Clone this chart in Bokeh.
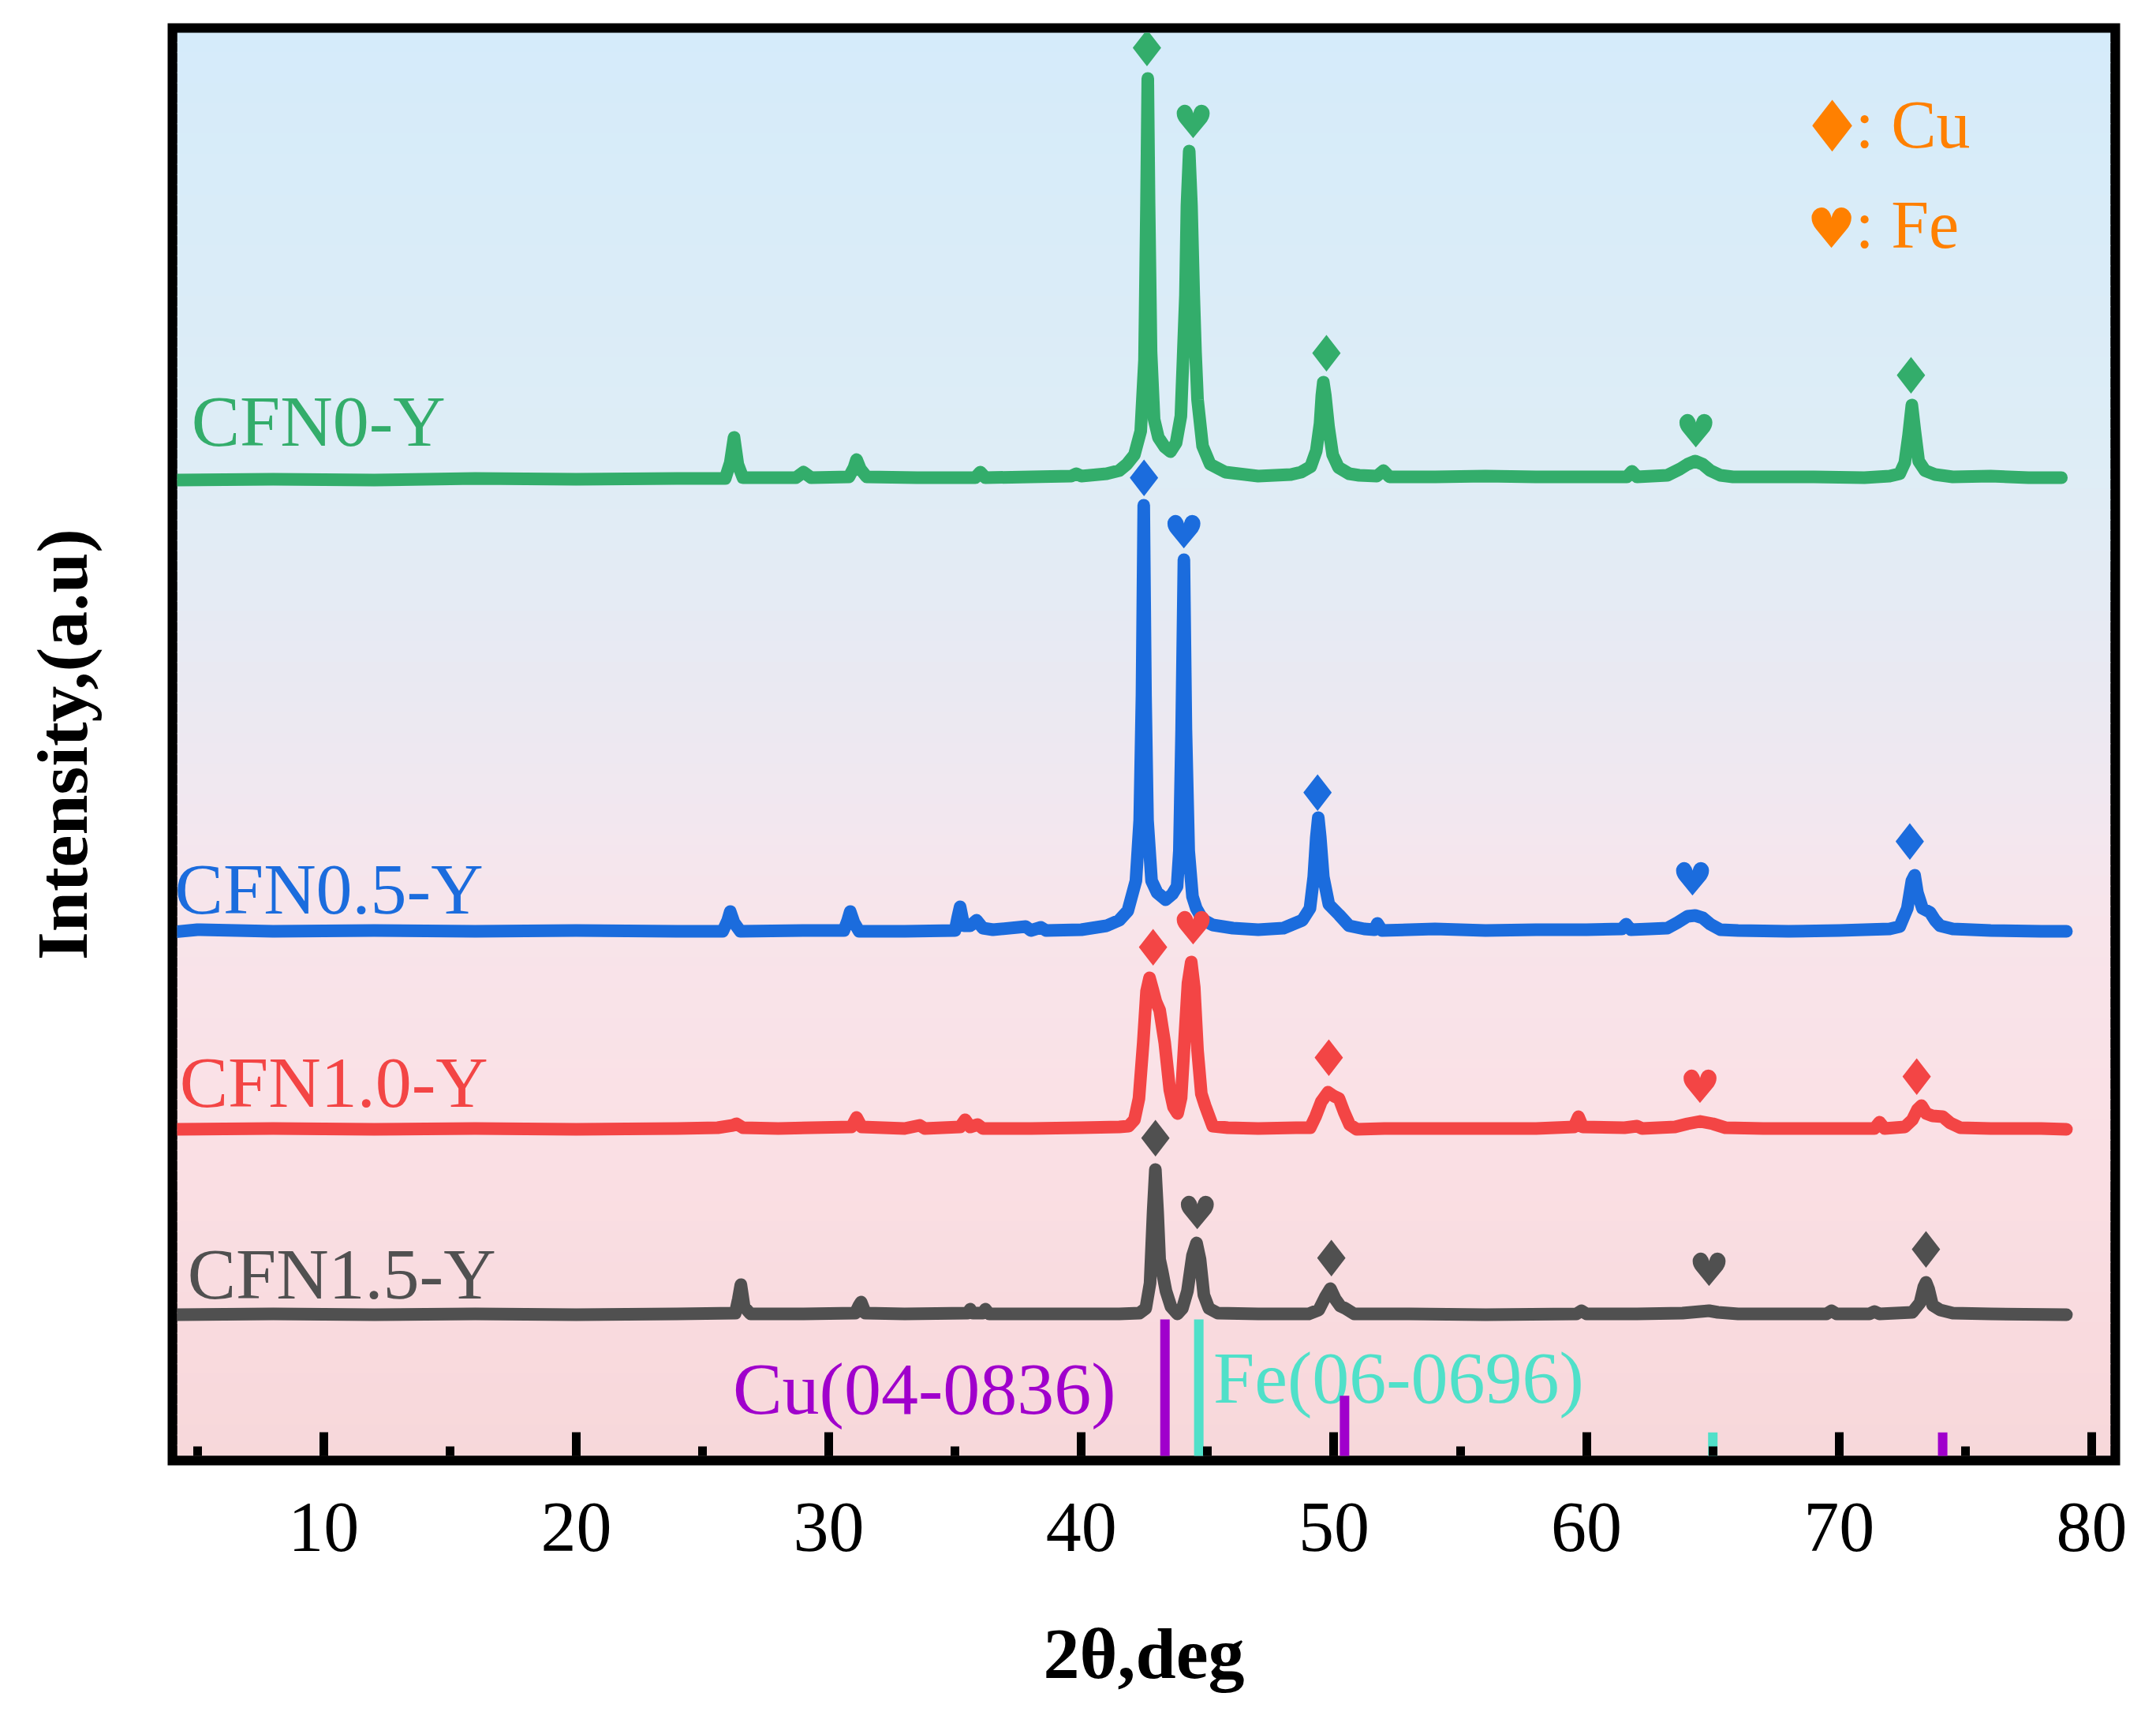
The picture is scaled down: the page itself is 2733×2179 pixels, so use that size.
import numpy as np
from bokeh.plotting import figure
from bokeh.models import Range1d, SingleIntervalTicker, FixedTicker
from bokeh.core.properties import value
from bokeh.embed import file_html
from bokeh.resources import INLINE

# ---------------- data (2theta in deg, relative intensity in a.u.) ----------------
green_x = [4.0, 8.0, 12.0, 16.0, 20.0, 24.0, 25.9, 26.1, 26.25, 26.4, 26.6, 28.7, 29.0, 29.3,
           30.8, 31.0, 31.1, 31.25, 31.5, 33.5, 35.8, 36.0, 36.2, 38.0, 39.6, 39.8, 40.0, 41.0,
           41.5, 41.8, 42.1, 42.35, 42.5, 42.58, 42.63, 42.68, 42.76, 42.88, 43.05, 43.3, 43.53,
           43.75, 43.94, 44.03, 44.12, 44.18, 44.27, 44.36, 44.45, 44.52, 44.6, 44.8, 45.1, 45.7,
           47.0, 48.3, 48.7, 49.08, 49.3, 49.45, 49.52, 49.58, 49.66, 49.79, 49.95, 50.18, 50.6,
           51.0, 51.7, 51.96, 52.2, 54.0, 56.0, 58.0, 60.0, 61.6, 61.8, 62.0, 63.2, 63.7, 64.0,
           64.3, 64.6, 64.9, 65.3, 65.8, 67.0, 69.0, 71.0, 72.0, 72.4, 72.6, 72.75, 72.88, 73.0,
           73.15, 73.4, 73.8, 74.5, 76.0, 77.5, 78.8]
green_i = [-2, -1, -2, 0, -1, 0, 0, 20, 52, 18, 1, 1, 8, 1,
           2, 14, 24, 12, 2, 1, 1, 8, 1, 2, 3, 6, 3, 6,
           10, 18, 30, 60, 150, 350, 507, 350, 160, 75, 52, 40, 34,
           45, 79, 155, 232, 346, 415, 346, 232, 160, 100, 41, 18, 8,
           3, 5, 8, 15, 35, 70, 105, 122, 105, 65, 30, 14, 6,
           4, 3, 10, 2, 2, 3, 2, 2, 2, 9, 2, 4, 12, 18,
           22, 18, 10, 4, 2, 2, 2, 1, 3, 6, 20, 55, 93, 60,
           22, 10, 5, 2, 3, 1, 1]

blue_x = [4.0, 5.0, 8.0, 12.0, 16.0, 20.0, 24.0, 25.8, 26.0, 26.1, 26.25, 26.5, 29.0, 30.6,
          30.75, 30.85, 31.0, 31.2, 33.0, 35.0, 35.1, 35.2, 35.35, 35.6, 35.85, 36.1, 36.5, 37.8,
          38.0, 38.4, 38.6, 40.0, 41.0, 41.5, 41.84, 42.16, 42.31, 42.4, 42.47, 42.54, 42.62,
          42.78, 43.0, 43.34, 43.6, 43.79, 43.88, 43.97, 44.06, 44.14, 44.25, 44.4, 44.55, 44.8,
          45.2, 46.0, 47.0, 48.0, 48.75, 49.05, 49.2, 49.3, 49.38, 49.46, 49.58, 49.8, 50.2, 50.6,
          51.2, 51.6, 51.72, 51.9, 54.0, 56.0, 58.0, 60.0, 61.4, 61.57, 61.75, 62.5, 63.2, 63.6,
          64.0, 64.3, 64.6, 64.9, 65.3, 66.0, 68.0, 70.0, 72.0, 72.4, 72.7, 72.88, 72.99, 73.1,
          73.3, 73.6, 73.8, 74.0, 74.5, 76.0, 78.0, 79.0]
blue_i = [0, 3, 1, 2, 1, 2, 1, 1, 15, 26, 12, 1, 2, 2,
          15, 26, 12, 1, 1, 2, 18, 32, 8, 8, 15, 5, 3, 7,
          2, 6, 2, 3, 8, 15, 27, 65, 142, 300, 541, 300, 142,
          65, 50, 41, 48, 58, 103, 257, 472, 257, 103, 45, 30, 16,
          9, 5, 3, 5, 15, 30, 70, 120, 145, 120, 70, 35, 22, 8,
          4, 3, 11, 2, 4, 2, 3, 3, 4, 10, 3, 4, 5, 12,
          20, 21, 18, 10, 3, 2, 1, 2, 4, 7, 30, 65, 72, 50,
          30, 25, 15, 8, 4, 2, 1, 1]

red_x = [4.0, 8.0, 12.0, 16.0, 20.0, 24.0, 25.6, 26.2, 26.35, 26.6, 28.0, 30.9, 31.1, 31.3,
         33.0, 33.6, 33.8, 35.2, 35.4, 35.6, 35.9, 36.1, 38.0, 40.0, 41.5, 41.87, 42.1, 42.28,
         42.45, 42.58, 42.7, 42.82, 42.95, 43.1, 43.3, 43.5, 43.65, 43.81, 43.95, 44.08, 44.22,
         44.35, 44.47, 44.6, 44.75, 44.9, 45.2, 45.8, 47.0, 48.5, 49.06, 49.27, 49.5, 49.77, 50.0,
         50.2, 50.4, 50.62, 50.9, 52.0, 54.0, 56.0, 58.0, 59.5, 59.68, 59.85, 61.5, 62.0, 62.2,
         63.5, 64.0, 64.5, 65.0, 65.5, 67.0, 69.0, 71.4, 71.6, 71.8, 72.6, 72.9, 73.1, 73.26,
         73.45, 73.7, 74.1, 74.4, 74.8, 76.0, 78.0, 79.0]
red_i = [0, 1, 0, 1, 0, 1, 2, 5, 7, 2, 1, 3, 15, 3,
         1, 5, 1, 3, 12, 3, 6, 1, 1, 2, 3, 4, 12, 39,
         110, 175, 192, 178, 162, 151, 110, 50, 28, 20, 40, 110, 185,
         212, 180, 100, 45, 30, 4, 2, 1, 2, 2, 16, 35, 47, 42,
         39, 22, 6, 0, 1, 1, 1, 1, 3, 16, 3, 2, 4, 1,
         3, 7, 10, 7, 2, 1, 1, 1, 9, 1, 3, 12, 25, 30,
         20, 17, 16, 8, 2, 1, 1, 0]

gray_x = [4.0, 8.0, 12.0, 16.0, 20.0, 24.0, 26.3, 26.42, 26.52, 26.65, 26.9, 29.0, 31.05, 31.2,
          31.28, 31.45, 33.0, 35.5, 35.6, 35.7, 36.1, 36.2, 36.35, 38.0, 40.0, 41.5, 42.3, 42.55,
          42.72, 42.84, 42.93, 43.02, 43.1, 43.2, 43.35, 43.55, 43.8, 44.0, 44.2, 44.4, 44.56,
          44.7, 44.85, 45.05, 45.4, 47.0, 49.0, 49.4, 49.65, 49.86, 50.05, 50.25, 50.45, 50.8,
          53.0, 56.0, 59.6, 59.8, 60.0, 62.0, 63.8, 64.5, 64.85, 65.2, 66.0, 69.5, 69.7, 69.9,
          71.2, 71.4, 71.6, 72.9, 73.2, 73.35, 73.44, 73.55, 73.7, 74.0, 74.5, 76.0, 79.0]
gray_i = [0, 1, 0, 1, 0, 1, 2, 20, 38, 10, 1, 1, 2, 12,
          16, 2, 1, 2, 7, 2, 2, 7, 1, 1, 1, 1, 2, 8,
          40, 130, 184, 130, 70, 55, 30, 10, 1, 8, 30, 75, 91,
          70, 25, 8, 2, 1, 1, 6, 22, 33, 20, 11, 8, 1,
          1, 0, 1, 5, 1, 1, 2, 4, 5, 3, 1, 1, 5, 1,
          1, 4, 1, 3, 15, 35, 41, 32, 12, 6, 2, 1, 0]

names = ["CFN0-Y", "CFN0.5-Y", "CFN1.0-Y", "CFN1.5-Y"]
offsets = [1245, 670, 420, 185]          # vertical stacking offsets (a.u.)
series_x = [green_x, blue_x, red_x, gray_x]
series_i = [green_i, blue_i, red_i, gray_i]
colors = ["#33AD6B", "#1B6CDD", "#F34545", "#505050"]

# peak markers: (2theta, relative intensity, phase)
markers = [
    [(42.60, 545, "Cu"), (44.43, 452, "Fe"), (49.70, 158, "Cu"), (64.33, 60, "Fe"), (72.85, 130, "Cu")],
    [(42.48, 575, "Cu"), (44.06, 507, "Fe"), (49.35, 176, "Cu"), (64.20, 67, "Fe"), (72.80, 114, "Cu")],
    [(42.84, 230, "Cu"), (44.43, 255, "Fe"), (49.80, 90, "Cu"), (64.49, 54, "Fe"), (73.07, 66, "Cu")],
    [(42.93, 223, "Cu"), (44.59, 129, "Fe"), (49.90, 71, "Cu"), (64.85, 57, "Fe"), (73.44, 82, "Cu")],
]
label_pos = [(4.77, 1318), (4.11, 725), (4.30, 480), (4.61, 237)]

# standard reference patterns
cu_ref_x = [43.31, 50.42, 74.10]
cu_ref_i = [100, 46, 20]
fe_ref_x = [44.65, 65.00]
fe_ref_i = [100, 20]
STICK_SCALE = 1.79

x_ticks_interval = 10

# ---------------- figure ----------------
W, H = 2717, 2170
X0, X1 = 4.2, 80.75
Y0, Y1 = 6, 1810
p = figure(width=W, height=H, output_backend="svg", toolbar_location=None,
           x_range=Range1d(X0, X1), y_range=Range1d(Y0, Y1),
           min_border_left=224, min_border_right=W - 2675, min_border_top=41,
           min_border_bottom=H - 1845)
p.grid.visible = False
p.background_fill_color = "#ECE6F0"
p.border_fill_color = "white"
p.outline_line_color = "black"
p.outline_line_width = 24
p.outline_line_join = "miter"

# vertical gradient background (top -> bottom)
stop_f = [0.0, 0.30, 0.466, 0.56, 0.63, 0.75, 0.92, 1.0]
stop_rgb = [(213, 235, 250), (222, 237, 246), (234, 233, 242), (243, 231, 239),
            (248, 228, 234), (250, 225, 230), (249, 218, 222), (247, 216, 218)]
nb = 140
edges = np.linspace(Y1, Y0, nb + 1)
fc = (np.arange(nb) + 0.5) / nb
band_cols = []
for f in fc:
    r = np.interp(f, stop_f, [c[0] for c in stop_rgb])
    g = np.interp(f, stop_f, [c[1] for c in stop_rgb])
    b = np.interp(f, stop_f, [c[2] for c in stop_rgb])
    band_cols.append("#%02x%02x%02x" % (int(round(r)), int(round(g)), int(round(b))))
p.quad(left=X0, right=X1, top=list(edges[:-1] + 1.5), bottom=list(edges[1:]),
       fill_color=band_cols, line_color=None)

SERIF = "Liberation Serif"

# reference pattern labels (drawn under sticks)
p.text(x=[26.2], y=[92], text=["Cu(04-0836)"], text_font=value(SERIF), text_font_size=value("94px"),
       text_color="#A000CC", text_baseline="middle", text_align="left")
p.text(x=[45.22], y=[106], text=["Fe(06-0696)"], text_font=value(SERIF), text_font_size=value("94px"),
       text_color="#50E0C9", text_baseline="middle", text_align="left")

# sticks
p.segment(x0=cu_ref_x, y0=[0] * len(cu_ref_x), x1=cu_ref_x, y1=[v * STICK_SCALE for v in cu_ref_i],
          line_width=12, line_color="#A000CC", line_cap="butt")
p.segment(x0=fe_ref_x, y0=[0] * len(fe_ref_x), x1=fe_ref_x, y1=[v * STICK_SCALE for v in fe_ref_i],
          line_width=12, line_color="#50E0C9", line_cap="butt")

# patterns
for xs, ii, off, col, nm, lp, mk in zip(series_x, series_i, offsets, colors, names, label_pos, markers):
    ys = [v + off for v in ii]
    p.line(xs, ys, line_width=16, line_color=col, line_join="round", line_cap="round")
    p.text(x=[lp[0]], y=[lp[1]], text=[nm], text_font=value(SERIF), text_font_size=value("92px"),
           text_color=col, text_baseline="middle", text_align="center" if False else "left")
    cu = [m for m in mk if m[2] == "Cu"]
    fe = [m for m in mk if m[2] == "Fe"]
    p.text(x=[m[0] for m in cu], y=[m[1] + off for m in cu], text=["\u2666"] * len(cu),
           text_font=value("DejaVu Sans"), text_font_size=value("64px"),
           text_color=col, text_baseline="middle", text_align="center")
    p.text(x=[m[0] for m in fe], y=[m[1] + off for m in fe], text=["\u2665"] * len(fe),
           text_font=value("DejaVu Sans"), text_font_size=value("58px"),
           text_color=col, text_baseline="middle", text_align="center")

# legend of symbols
ORANGE = "#FF8000"
p.text(x=[69.73], y=[1691], text=["\u2666"], text_font=value("DejaVu Sans"),
       text_font_size=value("90px"), text_color=ORANGE, text_baseline="middle", text_align="center")
p.text(x=[69.70], y=[1562], text=["\u2665"], text_font=value("DejaVu Sans"),
       text_font_size=value("70px"), text_color=ORANGE, text_baseline="middle", text_align="center")
p.text(x=[70.64, 70.64], y=[1694, 1567], text=[": Cu", ": Fe"], text_font=value(SERIF),
       text_font_size=value("86px"), text_color=ORANGE, text_baseline="middle", text_align="left")

# axes
xa = p.xaxis[0]
xa.ticker = SingleIntervalTicker(interval=x_ticks_interval, num_minor_ticks=2)
xa.axis_line_color = None
xa.major_tick_in = 30
xa.major_tick_out = 0
xa.minor_tick_in = 12
xa.minor_tick_out = 0
xa.major_tick_line_width = 11
xa.minor_tick_line_width = 11
xa.major_tick_line_color = "black"
xa.minor_tick_line_color = "black"
xa.major_label_text_font = SERIF
xa.major_label_text_font_size = "90px"
xa.major_label_text_color = "black"
xa.major_label_standoff = 60
xa.axis_label = "2\u03b8,deg"
xa.axis_label_text_font = SERIF
xa.axis_label_text_font_style = "bold"
xa.axis_label_text_font_size = "92px"
xa.axis_label_text_color = "black"
xa.axis_label_standoff = 76

ya = p.yaxis[0]
ya.ticker = FixedTicker(ticks=[])
ya.axis_line_color = None
ya.major_tick_line_color = None
ya.minor_tick_line_color = None
ya.major_label_text_font_size = "0px"
ya.axis_label = "Intensity,(a.u)"
ya.axis_label_text_font = SERIF
ya.axis_label_text_font_style = "bold"
ya.axis_label_text_font_size = "92px"
ya.axis_label_text_color = "black"
ya.axis_label_standoff = 95

open("out.html", "w").write(file_html(p, INLINE))
